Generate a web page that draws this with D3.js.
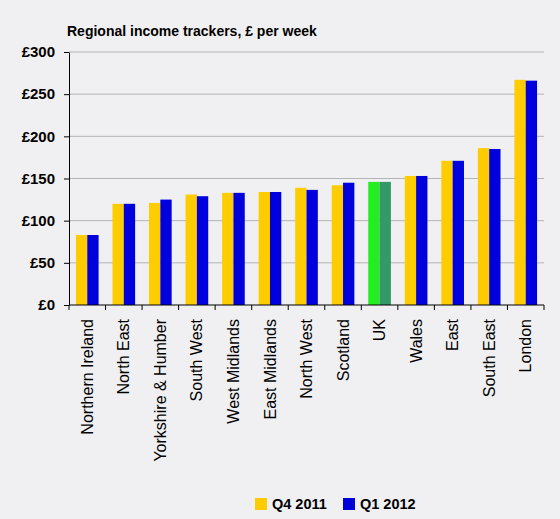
<!DOCTYPE html>
<html>
<head>
<meta charset="utf-8">
<script src="https://cdn.jsdelivr.net/npm/d3@7"></script>
<style>
  body { margin: 0; background: #f0f0f2; }
  svg { display: block; font-family: "Liberation Sans", Arial, sans-serif; }
</style>
</head>
<body>
<svg id="chart"></svg>
<script>
// regions, lowest to highest
const regions = ["Northern Ireland", "North East", "Yorkshire & Humber", "South West",
  "West Midlands", "East Midlands", "North West", "Scotland", "UK", "Wales",
  "East", "South East", "London"];
const q4_2011 = [83, 120, 121, 131, 133, 134, 139, 142, 146, 153, 171, 186, 267];
const q1_2012 = [83, 120, 125, 129, 133, 134, 136.5, 145, 146, 153, 171, 185, 266];
const seriesNames = ["Q4 2011", "Q1 2012"];
const yTicks = [0, 50, 100, 150, 200, 250, 300];

const width = 560, height = 519;
const margin = {top: 52, right: 16, bottom: 214, left: 69};
const innerW = width - margin.left - margin.right;
const innerH = height - margin.top - margin.bottom;

const colors = {"Q4 2011": "#ffcc00", "Q1 2012": "#0000dd"};
const ukColors = {"Q4 2011": "#22ee22", "Q1 2012": "#339966"};

const rows = regions.map((r, i) => ({region: r, values: [
  {key: "Q4 2011", value: q4_2011[i]},
  {key: "Q1 2012", value: q1_2012[i]}
]}));

const svg = d3.select("#chart")
    .attr("width", width)
    .attr("height", height);

svg.append("rect").attr("width", width).attr("height", height).attr("fill", "#f0f0f2");

svg.append("text")
    .attr("x", 67)
    .attr("y", 36)
    .style("font-size", "14px")
    .style("font-weight", "bold")
    .text("Regional income trackers, £ per week");

const g = svg.append("g")
    .attr("transform", "translate(" + margin.left + "," + margin.top + ")");

const x = d3.scaleBand().domain(regions).range([0, innerW]).padding(0);
const x1 = d3.scaleBand().domain(seriesNames)
    .range([x.bandwidth() * 0.19, x.bandwidth() * 0.81]).padding(0);
const y = d3.scaleLinear().domain([0, 300]).range([innerH, 0]);

// gridlines
g.selectAll(".grid")
    .data(yTicks.filter(d => d > 0))
    .enter().append("line")
    .attr("x1", 0).attr("x2", innerW)
    .attr("y1", d => y(d)).attr("y2", d => y(d))
    .attr("stroke", "#b4b4b4")
    .attr("stroke-width", 1);

// bars
const groups = g.selectAll(".grp")
    .data(rows)
    .enter().append("g")
    .attr("transform", d => "translate(" + x(d.region) + ",0)");

groups.selectAll("rect")
    .data(d => d.values.map(v => ({...v, region: d.region})))
    .enter().append("rect")
    .attr("x", d => x1(d.key))
    .attr("y", d => y(d.value))
    .attr("width", x1.bandwidth())
    .attr("height", d => innerH - y(d.value))
    .attr("fill", d => d.region === "UK" ? ukColors[d.key] : colors[d.key]);

// y axis
const yAxis = g.append("g")
    .call(d3.axisLeft(y).tickValues(yTicks).tickFormat(d => "£" + d).tickSize(5).tickSizeOuter(0));
yAxis.select(".domain").attr("stroke", "#000");
yAxis.selectAll("text")
    .attr("x", -14)
    .style("font-size", "15px")
    .style("font-weight", "bold")
    .attr("fill", "#000");

// x axis: ticks at band edges
const xAxis = g.append("g").attr("transform", "translate(0," + innerH + ")");
xAxis.append("line")
    .attr("x1", 0).attr("x2", innerW)
    .attr("stroke", "#000");
xAxis.selectAll(".tk")
    .data(d3.range(regions.length + 1))
    .enter().append("line")
    .attr("x1", i => i * x.step()).attr("x2", i => i * x.step())
    .attr("y1", 0).attr("y2", 5)
    .attr("stroke", "#000");
xAxis.selectAll(".lbl")
    .data(regions)
    .enter().append("text")
    .attr("transform", d => "translate(" + (x(d) + x.bandwidth() / 2) + ",14) rotate(-90)")
    .attr("text-anchor", "end")
    .attr("dy", "0.35em")
    .style("font-size", "16px")
    .text(d => d);

// legend
const legend = svg.append("g").attr("transform", "translate(255,498)");
const items = legend.selectAll("g")
    .data(seriesNames)
    .enter().append("g")
    .attr("transform", (d, i) => "translate(" + (i * 88) + ",0)");
items.append("rect")
    .attr("width", 12).attr("height", 12)
    .attr("fill", d => colors[d]);
items.append("text")
    .attr("x", 17).attr("y", 6)
    .attr("dy", "0.35em")
    .style("font-size", "14.5px")
    .style("font-weight", "bold")
    .text(d => d);
</script>
</body>
</html>
